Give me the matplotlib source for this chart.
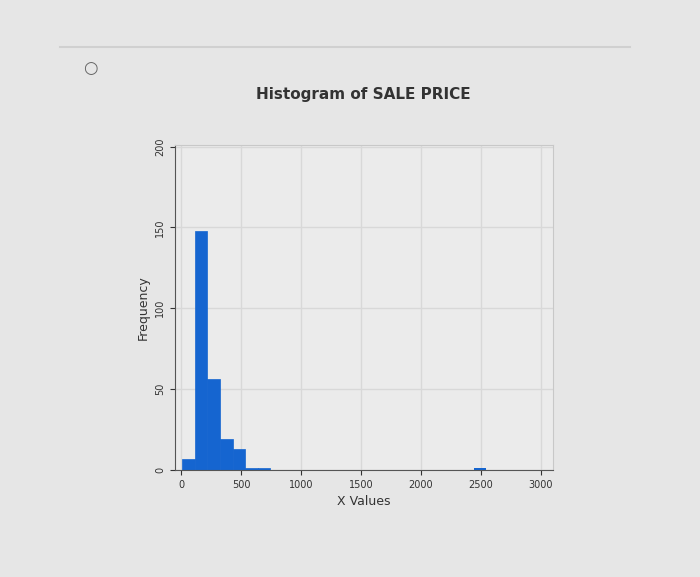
import matplotlib
matplotlib.use("Agg")
import matplotlib.pyplot as plt
import numpy as np

bin_edges = [10, 115, 220, 325, 430, 535, 640, 745]
counts = [7, 148, 56, 19, 13, 1, 1]
far_edges = [2440, 2545]
far_counts = [1]

fig = plt.figure(figsize=(7, 5.77), dpi=100, facecolor="#e6e6e6")
ax = fig.add_axes([175/700, 1-470/577, (553-175)/700, (470-145)/577])
ax.set_facecolor("#ebebeb")
ax.bar(bin_edges[:-1], counts, width=np.diff(bin_edges), align="edge", color="#1565d0", edgecolor="#1565d0", linewidth=0.5)
ax.bar(far_edges[:-1], far_counts, width=np.diff(far_edges), align="edge", color="#1565d0")
ax.set_xlim(-50, 3100)
ax.set_ylim(0, 201)
ax.set_xticks([0, 500, 1000, 1500, 2000, 2500, 3000])
ax.set_yticks([0, 50, 100, 150, 200])
ax.grid(True, color="#d8d8d8", linewidth=1)
ax.set_axisbelow(True)
for s in ax.spines.values():
    s.set_color("#c8c8c8")
ax.spines["left"].set_color("#555555")
ax.spines["bottom"].set_color("#555555")
ax.tick_params(labelsize=7, colors="#333333")
plt.setp(ax.get_yticklabels(), rotation=90, va="center")
ax.set_xlabel("X Values", fontsize=9, color="#333333")
ax.set_ylabel("Frequency", fontsize=9, color="#333333")
fig.text(363/700, 1-95/577, "Histogram of SALE PRICE", ha="center", va="center", fontsize=11, fontweight="bold", color="#333333")
fig.text(90/700, 1-68/577, "○", ha="center", va="center", fontsize=12, color="#666666")
fig.lines.append(plt.Line2D([60/700, 630/700], [1-47/577, 1-47/577], color="#d0d0d0", transform=fig.transFigure))
fig.savefig("out.png", dpi=100, facecolor=fig.get_facecolor())
